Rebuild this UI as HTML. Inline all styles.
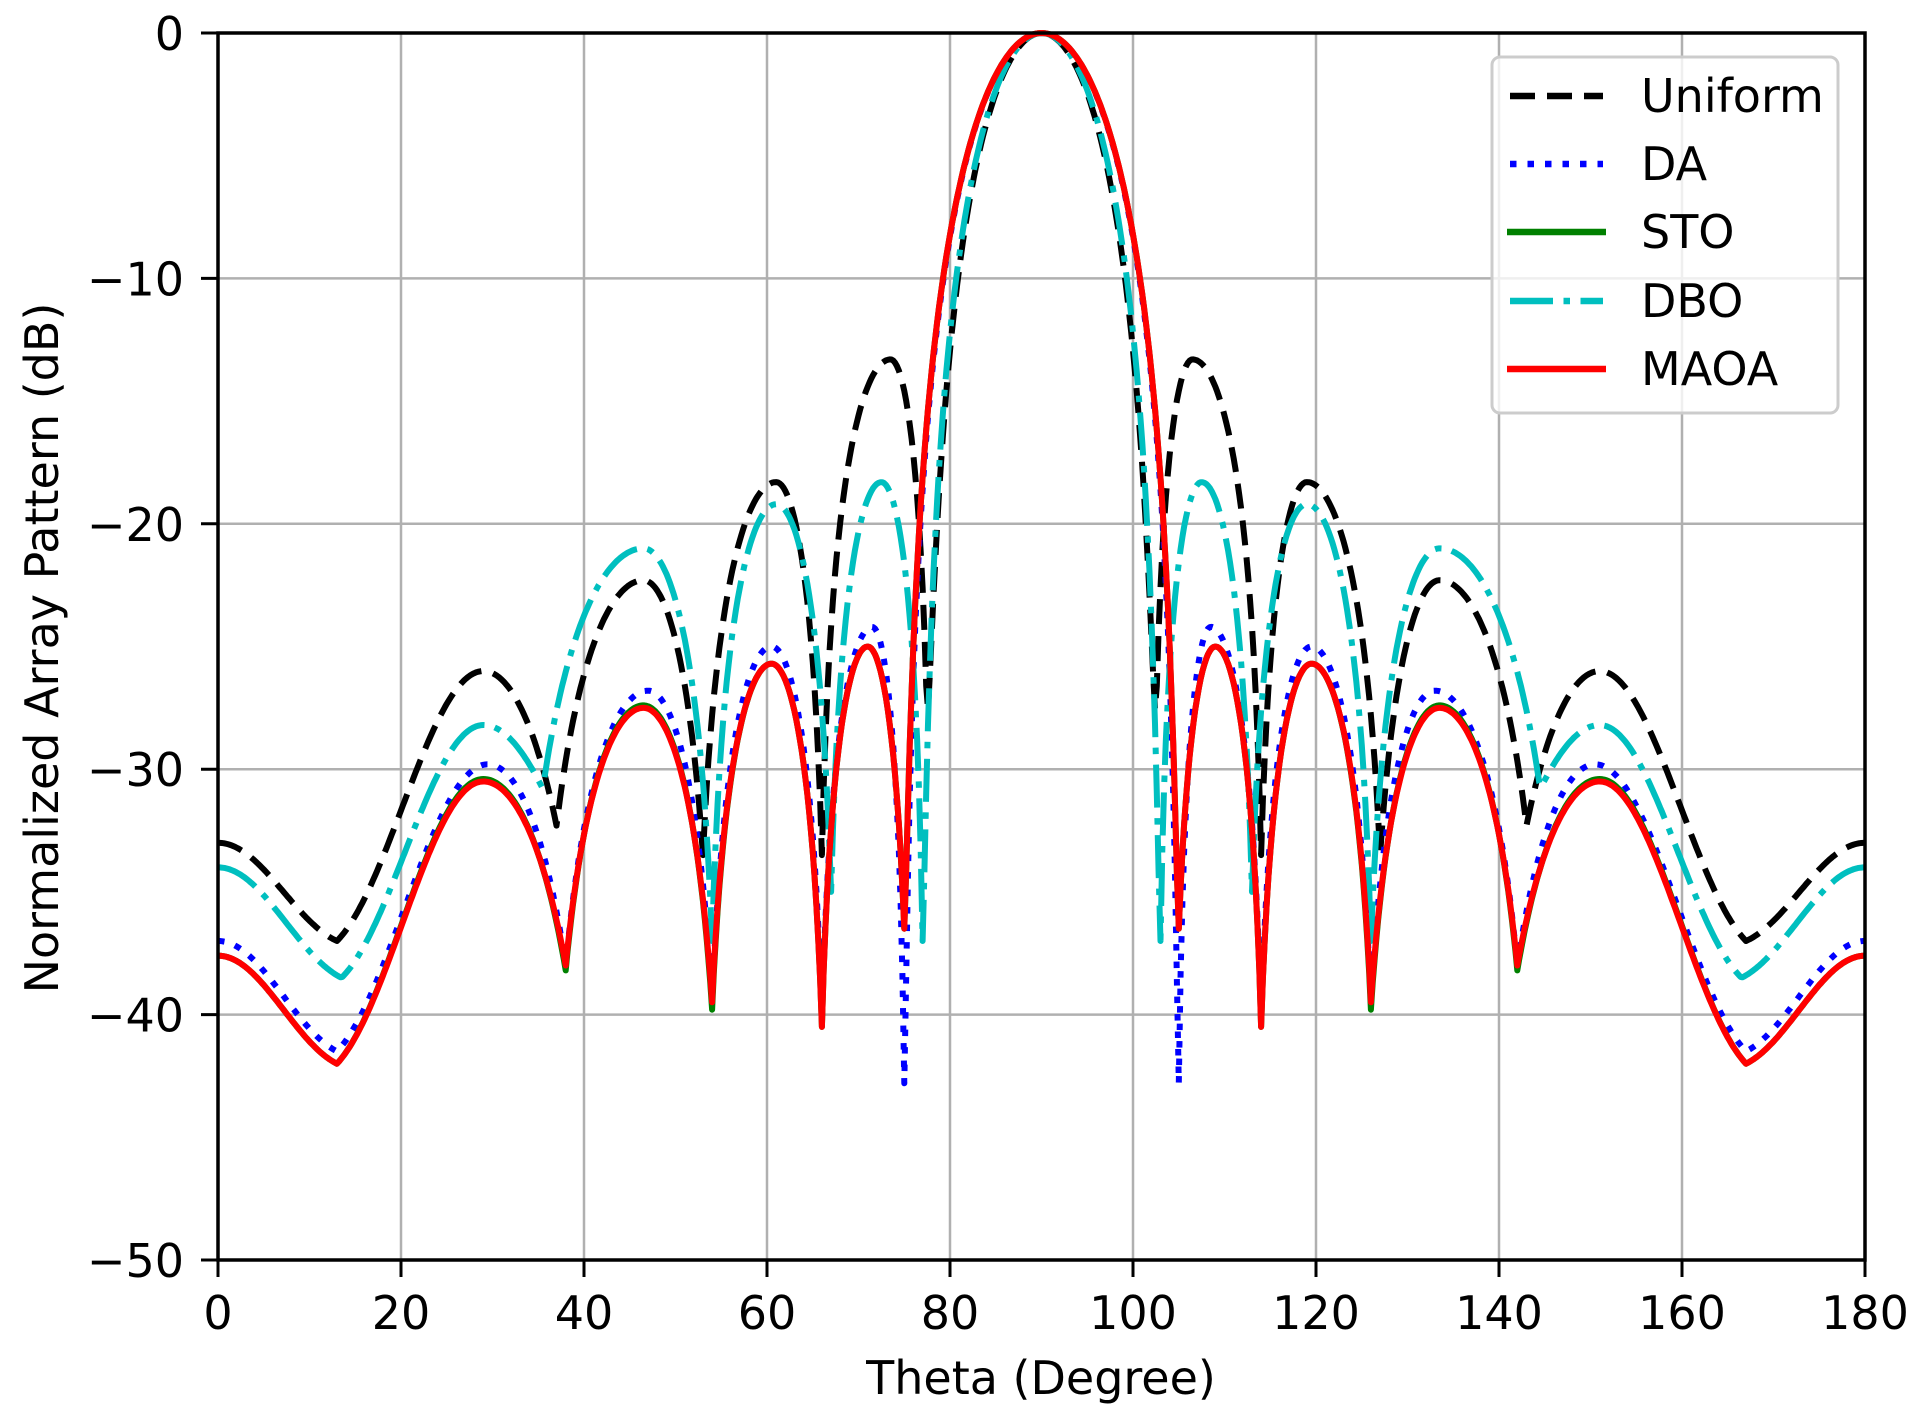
<!DOCTYPE html>
<html><head><meta charset="utf-8">
<style>
html,body{margin:0;padding:0;background:#fff;}
svg{display:block;}
text{font-family:"DejaVu Sans","Liberation Sans",sans-serif;fill:#000;}
</style></head>
<body>
<svg id="s" width="1918" height="1422" viewBox="0 0 1918 1422" xmlns="http://www.w3.org/2000/svg">
<rect width="1918" height="1422" fill="#fff"/>
<g id="grid" stroke="#b0b0b0" stroke-width="2.5"></g>
<g id="curves" fill="none" stroke-linejoin="round"></g>
<g id="ticks" stroke="#000" stroke-width="3"></g>
<rect x="218" y="33" width="1647" height="1227" fill="none" stroke="#000" stroke-width="3.5"/>
<g id="labels" font-size="46"></g>
<text x="1041" y="1394" font-size="46" text-anchor="middle">Theta (Degree)</text>
<text transform="translate(58,648) rotate(-90)" font-size="46" text-anchor="middle">Normalized Array Pattern (dB)</text>
<g id="legend">
<rect x="1492" y="57" width="346" height="356" rx="8" fill="#fff" fill-opacity="0.8" stroke="#cccccc" stroke-width="3"/>
<line x1="1510" y1="96" x2="1603" y2="96" stroke="#000" stroke-width="6.5" stroke-dasharray="25 12"/>
<line x1="1510" y1="164" x2="1603" y2="164" stroke="#0000ff" stroke-width="6.5" stroke-dasharray="6.5 11"/>
<line x1="1507" y1="232" x2="1606" y2="232" stroke="#008000" stroke-width="6.5"/>
<line x1="1510" y1="301" x2="1603" y2="301" stroke="#00bfbf" stroke-width="6.5" stroke-dasharray="43 10.5 6.5 10.5"/>
<line x1="1507" y1="369" x2="1606" y2="369" stroke="#ff0000" stroke-width="6.5"/>
<text x="1641" y="112" font-size="46">Uniform</text>
<text x="1641" y="180" font-size="46">DA</text>
<text x="1641" y="248" font-size="46">STO</text>
<text x="1641" y="317" font-size="46">DBO</text>
<text x="1641" y="385" font-size="46">MAOA</text>
</g>
</svg>
<script>
var NS="http://www.w3.org/2000/svg";
function X(t){return 218+t*1647/180;}
function Y(d){return 33-d*1227/50;}
function el(p,tag,a){var e=document.createElementNS(NS,tag);for(var k in a)e.setAttribute(k,a[k]);p.appendChild(e);return e;}
var grid=document.getElementById('grid'),ticks=document.getElementById('ticks'),labels=document.getElementById('labels');
for(var t=0;t<=180;t+=20){var x=X(t);
 if(t>0&&t<180)el(grid,'line',{x1:x,y1:33,x2:x,y2:1260});
 el(ticks,'line',{x1:x,y1:1260,x2:x,y2:1277});
 var tx=el(labels,'text',{x:x,y:1329,'text-anchor':'middle'});tx.textContent=String(t);}
for(var d=0;d>=-50;d-=10){var y=Y(d);
 if(d<0&&d>-50)el(grid,'line',{x1:218,y1:y,x2:1865,y2:y});
 el(ticks,'line',{x1:201,y1:y,x2:218,y2:y});
 var ty=el(labels,'text',{x:184,y:y+17,'text-anchor':'end'});ty.textContent=(d<0?'\u2212':'')+Math.abs(d);}
function curve(pts){
 function val(t){if(t>90)t=180-t;
  for(var i=0;i<pts.length-1;i++){var a=pts[i],b=pts[i+1];
   if(t>=a[0]&&t<=b[0]){var pk,nl,u;
    if(a[2]=='P'){pk=a;nl=b;u=(b[0]-t)/(b[0]-a[0]);}else{pk=b;nl=a;u=(t-a[0])/(b[0]-a[0]);}
    if(nl[2]=='R'){var e=(1-Math.cos(Math.PI*u))/2;return nl[1]+(pk[1]-nl[1])*Math.sin(Math.PI/2*u)*(0.35)+(pk[1]-nl[1])*e*0.65;}
    var s=Math.sin(Math.PI/2*u);
    if(pk[0]==90)s=Math.pow(s,1.4);
    var f=Math.pow(10,nl[1]/20),P=Math.pow(10,pk[1]/20);
    return 20*Math.log10(f+(P-f)*s);}}
  return pts[pts.length-1][1];}
 var s='';for(var t=0;t<=180.001;t+=0.2){s+=(t==0?'M':'L')+X(t).toFixed(1)+','+Y(val(t)).toFixed(1);}
 return s;}
var data=[
 {c:'#000',da:'25 12',p:[[0,-33,'P'],[13,-37,'R'],[29,-26,'P'],[37,-32.3,'N'],[46.5,-22.3,'P'],[53,-33.5,'N'],[61,-18.3,'P'],[66,-33.5,'N'],[73.5,-13.3,'P'],[77.5,-28,'N'],[90,0,'P']]},
 {c:'#0000ff',da:'6.5 11',p:[[0,-37,'P'],[13,-41.5,'R'],[29.5,-29.8,'P'],[38,-38,'N'],[47,-26.8,'P'],[54,-39.5,'N'],[60.5,-25,'P'],[66,-40,'N'],[71.5,-24.2,'P'],[75,-42.8,'N'],[90,0,'P']]},
 {c:'#00bfbf',da:'43 10.5 6.5 10.5',p:[[0,-34,'P'],[13.5,-38.5,'R'],[29,-28.2,'P'],[35.5,-30.8,'N'],[46.5,-21,'P'],[54,-37,'N'],[61,-19.2,'P'],[67,-35,'N'],[72.5,-18.3,'P'],[77,-37,'N'],[90,0,'P']]},
 {c:'#008000',da:'',p:[[0,-37.6,'P'],[13,-42,'R'],[29,-30.4,'P'],[38,-38.2,'N'],[46.5,-27.4,'P'],[54,-39.8,'N'],[60.5,-25.7,'P'],[66,-40.5,'N'],[71,-25,'P'],[75,-36.5,'N'],[90,0,'P']]},
 {c:'#ff0000',da:'',p:[[0,-37.6,'P'],[13,-42,'R'],[29,-30.5,'P'],[38,-38,'N'],[46.5,-27.5,'P'],[54,-39.5,'N'],[60.5,-25.7,'P'],[66,-40.5,'N'],[71,-25,'P'],[75,-36.5,'N'],[90,0,'P']]}
];
var cg=document.getElementById('curves');
data.forEach(function(o){var a={d:curve(o.p),stroke:o.c,'stroke-width':'6'};if(o.da)a['stroke-dasharray']=o.da;el(cg,'path',a);});
</script>
</body></html>
